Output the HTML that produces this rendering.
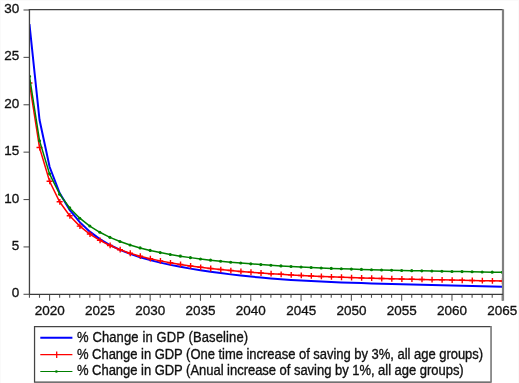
<!DOCTYPE html>
<html><head><meta charset="utf-8"><style>
html,body{margin:0;padding:0;background:#fff;width:519px;height:383px;overflow:hidden}
svg{display:block;will-change:transform;font-family:"Liberation Sans",sans-serif;font-size:13px}
.tk{stroke:#555;stroke-width:1.1}
text{fill:#111;stroke:#111;stroke-width:0.32px}
.ax{font-size:13.5px}
.lg{font-size:13px}
</style></head><body>
<svg width="519" height="383" viewBox="0 0 519 383">
<rect x="0" y="0" width="519" height="383" fill="#fff"/>
<defs><clipPath id="pc"><rect x="29.45" y="9.6" width="473.55" height="284.70"/></clipPath></defs>
<line x1="23.5" y1="294.30" x2="29.45" y2="294.30" class="tk"/><line x1="23.5" y1="246.92" x2="29.45" y2="246.92" class="tk"/><line x1="23.5" y1="199.53" x2="29.45" y2="199.53" class="tk"/><line x1="23.5" y1="152.15" x2="29.45" y2="152.15" class="tk"/><line x1="23.5" y1="104.76" x2="29.45" y2="104.76" class="tk"/><line x1="23.5" y1="57.38" x2="29.45" y2="57.38" class="tk"/><line x1="23.5" y1="9.99" x2="29.45" y2="9.99" class="tk"/><line x1="29.45" y1="294.30" x2="29.45" y2="297.80" class="tk"/><line x1="39.51" y1="294.30" x2="39.51" y2="297.80" class="tk"/><line x1="49.57" y1="294.30" x2="49.57" y2="300.80" class="tk"/><line x1="59.63" y1="294.30" x2="59.63" y2="297.80" class="tk"/><line x1="69.69" y1="294.30" x2="69.69" y2="297.80" class="tk"/><line x1="79.75" y1="294.30" x2="79.75" y2="297.80" class="tk"/><line x1="89.81" y1="294.30" x2="89.81" y2="297.80" class="tk"/><line x1="99.87" y1="294.30" x2="99.87" y2="300.80" class="tk"/><line x1="109.93" y1="294.30" x2="109.93" y2="297.80" class="tk"/><line x1="119.99" y1="294.30" x2="119.99" y2="297.80" class="tk"/><line x1="130.05" y1="294.30" x2="130.05" y2="297.80" class="tk"/><line x1="140.11" y1="294.30" x2="140.11" y2="297.80" class="tk"/><line x1="150.17" y1="294.30" x2="150.17" y2="300.80" class="tk"/><line x1="160.23" y1="294.30" x2="160.23" y2="297.80" class="tk"/><line x1="170.29" y1="294.30" x2="170.29" y2="297.80" class="tk"/><line x1="180.35" y1="294.30" x2="180.35" y2="297.80" class="tk"/><line x1="190.41" y1="294.30" x2="190.41" y2="297.80" class="tk"/><line x1="200.47" y1="294.30" x2="200.47" y2="300.80" class="tk"/><line x1="210.53" y1="294.30" x2="210.53" y2="297.80" class="tk"/><line x1="220.59" y1="294.30" x2="220.59" y2="297.80" class="tk"/><line x1="230.65" y1="294.30" x2="230.65" y2="297.80" class="tk"/><line x1="240.71" y1="294.30" x2="240.71" y2="297.80" class="tk"/><line x1="250.77" y1="294.30" x2="250.77" y2="300.80" class="tk"/><line x1="260.83" y1="294.30" x2="260.83" y2="297.80" class="tk"/><line x1="270.89" y1="294.30" x2="270.89" y2="297.80" class="tk"/><line x1="280.95" y1="294.30" x2="280.95" y2="297.80" class="tk"/><line x1="291.01" y1="294.30" x2="291.01" y2="297.80" class="tk"/><line x1="301.07" y1="294.30" x2="301.07" y2="300.80" class="tk"/><line x1="311.13" y1="294.30" x2="311.13" y2="297.80" class="tk"/><line x1="321.19" y1="294.30" x2="321.19" y2="297.80" class="tk"/><line x1="331.25" y1="294.30" x2="331.25" y2="297.80" class="tk"/><line x1="341.31" y1="294.30" x2="341.31" y2="297.80" class="tk"/><line x1="351.37" y1="294.30" x2="351.37" y2="300.80" class="tk"/><line x1="361.43" y1="294.30" x2="361.43" y2="297.80" class="tk"/><line x1="371.49" y1="294.30" x2="371.49" y2="297.80" class="tk"/><line x1="381.55" y1="294.30" x2="381.55" y2="297.80" class="tk"/><line x1="391.61" y1="294.30" x2="391.61" y2="297.80" class="tk"/><line x1="401.67" y1="294.30" x2="401.67" y2="300.80" class="tk"/><line x1="411.73" y1="294.30" x2="411.73" y2="297.80" class="tk"/><line x1="421.79" y1="294.30" x2="421.79" y2="297.80" class="tk"/><line x1="431.85" y1="294.30" x2="431.85" y2="297.80" class="tk"/><line x1="441.91" y1="294.30" x2="441.91" y2="297.80" class="tk"/><line x1="451.97" y1="294.30" x2="451.97" y2="300.80" class="tk"/><line x1="462.03" y1="294.30" x2="462.03" y2="297.80" class="tk"/><line x1="472.09" y1="294.30" x2="472.09" y2="297.80" class="tk"/><line x1="482.15" y1="294.30" x2="482.15" y2="297.80" class="tk"/><line x1="492.21" y1="294.30" x2="492.21" y2="297.80" class="tk"/><line x1="502.27" y1="294.30" x2="502.27" y2="300.80" class="tk"/>
<g clip-path="url(#pc)">
<polyline points="29.45,24.02 39.51,119.83 49.57,166.74 59.63,193.09 69.69,209.83 79.75,222.19 89.81,231.64 99.87,239.05 109.93,245.00 119.99,249.86 130.05,253.91 140.11,257.26 150.17,260.13 160.23,262.64 170.29,264.86 180.35,266.84 190.41,268.63 200.47,270.26 210.53,271.74 220.59,273.11 230.65,274.37 240.71,275.53 250.77,276.59 260.83,277.55 270.89,278.42 280.95,279.21 291.01,279.91 301.07,280.53 311.13,281.09 321.19,281.59 331.25,282.04 341.31,282.42 351.37,282.76 361.43,283.08 371.49,283.38 381.55,283.66 391.61,283.92 401.67,284.18 411.73,284.42 421.79,284.66 431.85,284.89 441.91,285.16 451.97,285.42 462.03,285.68 472.09,285.94 482.15,286.20 492.21,286.46 502.27,286.72" fill="none" stroke="#0000ff" stroke-width="2.0"/>
<polyline points="29.45,82.96 39.51,147.50 49.57,181.24 59.63,201.80 69.69,215.81 79.75,226.11 89.81,234.06 99.87,240.36 109.93,245.47 119.99,249.69 130.05,253.23 140.11,256.17 150.17,258.69 160.23,260.88 170.29,262.79 180.35,264.47 190.41,265.96 200.47,267.30 210.53,268.49 220.59,269.57 230.65,270.55 240.71,271.44 250.77,272.25 260.83,273.00 270.89,273.69 280.95,274.32 291.01,274.91 301.07,275.45 311.13,275.96 321.19,276.43 331.25,276.87 341.31,277.24 351.37,277.58 361.43,277.90 371.49,278.20 381.55,278.48 391.61,278.74 401.67,278.99 411.73,279.22 421.79,279.43 431.85,279.64 441.91,279.87 451.97,280.09 462.03,280.30 472.09,280.50 482.15,280.69 492.21,280.87 502.27,281.05" fill="none" stroke="#ff0000" stroke-width="1.5"/>
<path d="M26.45,82.96h6M29.65,80.06v5.8M36.51,147.50h6M39.71,144.60v5.8M46.57,181.24h6M49.77,178.34v5.8M56.63,201.80h6M59.83,198.90v5.8M66.69,215.81h6M69.89,212.91v5.8M76.75,226.11h6M79.95,223.21v5.8M86.81,234.06h6M90.01,231.16v5.8M96.87,240.36h6M100.07,237.46v5.8M106.93,245.47h6M110.13,242.57v5.8M116.99,249.69h6M120.19,246.79v5.8M127.05,253.23h6M130.25,250.33v5.8M137.11,256.17h6M140.31,253.27v5.8M147.17,258.69h6M150.37,255.79v5.8M157.23,260.88h6M160.43,257.98v5.8M167.29,262.79h6M170.49,259.89v5.8M177.35,264.47h6M180.55,261.57v5.8M187.41,265.96h6M190.61,263.06v5.8M197.47,267.30h6M200.67,264.40v5.8M207.53,268.49h6M210.73,265.59v5.8M217.59,269.57h6M220.79,266.67v5.8M227.65,270.55h6M230.85,267.65v5.8M237.71,271.44h6M240.91,268.54v5.8M247.77,272.25h6M250.97,269.35v5.8M257.83,273.00h6M261.03,270.10v5.8M267.89,273.69h6M271.09,270.79v5.8M277.95,274.32h6M281.15,271.42v5.8M288.01,274.91h6M291.21,272.01v5.8M298.07,275.45h6M301.27,272.55v5.8M308.13,275.96h6M311.33,273.06v5.8M318.19,276.43h6M321.39,273.53v5.8M328.25,276.87h6M331.45,273.97v5.8M338.31,277.24h6M341.51,274.34v5.8M348.37,277.58h6M351.57,274.68v5.8M358.43,277.90h6M361.63,275.00v5.8M368.49,278.20h6M371.69,275.30v5.8M378.55,278.48h6M381.75,275.58v5.8M388.61,278.74h6M391.81,275.84v5.8M398.67,278.99h6M401.87,276.09v5.8M408.73,279.22h6M411.93,276.32v5.8M418.79,279.43h6M421.99,276.53v5.8M428.85,279.64h6M432.05,276.74v5.8M438.91,279.87h6M442.11,276.97v5.8M448.97,280.09h6M452.17,277.19v5.8M459.03,280.30h6M462.23,277.40v5.8M469.09,280.50h6M472.29,277.60v5.8M479.15,280.69h6M482.35,277.79v5.8M489.21,280.87h6M492.41,277.97v5.8M499.27,281.05h6M502.47,278.15v5.8" stroke="#ff0000" stroke-width="1.4" fill="none"/>
<polyline points="29.45,76.33 39.51,140.68 49.57,173.85 59.63,194.22 69.69,207.92 79.75,218.18 89.81,226.06 99.87,232.29 109.93,237.34 119.99,241.51 130.05,245.01 140.11,247.92 150.17,250.42 160.23,252.58 170.29,254.48 180.35,256.15 190.41,257.63 200.47,258.95 210.53,260.14 220.59,261.21 230.65,262.18 240.71,263.07 250.77,263.87 260.83,264.61 270.89,265.29 280.95,265.91 291.01,266.49 301.07,267.03 311.13,267.52 321.19,267.98 331.25,268.41 341.31,268.77 351.37,269.10 361.43,269.40 371.49,269.69 381.55,269.95 391.61,270.20 401.67,270.43 411.73,270.64 421.79,270.83 431.85,271.02 441.91,271.23 451.97,271.43 462.03,271.62 472.09,271.80 482.15,271.97 492.21,272.13 502.27,272.28" fill="none" stroke="#008000" stroke-width="1.5"/>
<g fill="#008000"><circle cx="29.45" cy="76.33" r="1.55"/><circle cx="39.51" cy="140.68" r="1.55"/><circle cx="49.57" cy="173.85" r="1.55"/><circle cx="59.63" cy="194.22" r="1.55"/><circle cx="69.69" cy="207.92" r="1.55"/><circle cx="79.75" cy="218.18" r="1.55"/><circle cx="89.81" cy="226.06" r="1.55"/><circle cx="99.87" cy="232.29" r="1.55"/><circle cx="109.93" cy="237.34" r="1.55"/><circle cx="119.99" cy="241.51" r="1.55"/><circle cx="130.05" cy="245.01" r="1.55"/><circle cx="140.11" cy="247.92" r="1.55"/><circle cx="150.17" cy="250.42" r="1.55"/><circle cx="160.23" cy="252.58" r="1.55"/><circle cx="170.29" cy="254.48" r="1.55"/><circle cx="180.35" cy="256.15" r="1.55"/><circle cx="190.41" cy="257.63" r="1.55"/><circle cx="200.47" cy="258.95" r="1.55"/><circle cx="210.53" cy="260.14" r="1.55"/><circle cx="220.59" cy="261.21" r="1.55"/><circle cx="230.65" cy="262.18" r="1.55"/><circle cx="240.71" cy="263.07" r="1.55"/><circle cx="250.77" cy="263.87" r="1.55"/><circle cx="260.83" cy="264.61" r="1.55"/><circle cx="270.89" cy="265.29" r="1.55"/><circle cx="280.95" cy="265.91" r="1.55"/><circle cx="291.01" cy="266.49" r="1.55"/><circle cx="301.07" cy="267.03" r="1.55"/><circle cx="311.13" cy="267.52" r="1.55"/><circle cx="321.19" cy="267.98" r="1.55"/><circle cx="331.25" cy="268.41" r="1.55"/><circle cx="341.31" cy="268.77" r="1.55"/><circle cx="351.37" cy="269.10" r="1.55"/><circle cx="361.43" cy="269.40" r="1.55"/><circle cx="371.49" cy="269.69" r="1.55"/><circle cx="381.55" cy="269.95" r="1.55"/><circle cx="391.61" cy="270.20" r="1.55"/><circle cx="401.67" cy="270.43" r="1.55"/><circle cx="411.73" cy="270.64" r="1.55"/><circle cx="421.79" cy="270.83" r="1.55"/><circle cx="431.85" cy="271.02" r="1.55"/><circle cx="441.91" cy="271.23" r="1.55"/><circle cx="451.97" cy="271.43" r="1.55"/><circle cx="462.03" cy="271.62" r="1.55"/><circle cx="472.09" cy="271.80" r="1.55"/><circle cx="482.15" cy="271.97" r="1.55"/><circle cx="492.21" cy="272.13" r="1.55"/><circle cx="502.27" cy="272.28" r="1.55"/></g>
</g>
<rect x="0.5" y="0.5" width="518" height="383" fill="none" stroke="#fafafa" stroke-width="1"/>
<line x1="29.45" y1="294.4" x2="29.45" y2="9.0" stroke="#424242" stroke-width="1.3"/>
<line x1="28.85" y1="9.6" x2="503" y2="9.6" stroke="#404040" stroke-width="1.3"/>
<line x1="503" y1="9.2" x2="503" y2="300.80" stroke="#808080" stroke-width="2.2"/>
<line x1="29.45" y1="294.4" x2="503" y2="294.35" stroke="#3a3a3a" stroke-width="1.3"/>
<text transform="translate(19.3,297.40) scale(1,1.01)" text-anchor="end" class="ax">0</text><text transform="translate(19.3,250.02) scale(1,1.01)" text-anchor="end" class="ax">5</text><text transform="translate(19.3,202.63) scale(1,1.01)" text-anchor="end" class="ax">10</text><text transform="translate(19.3,155.25) scale(1,1.01)" text-anchor="end" class="ax">15</text><text transform="translate(19.3,107.86) scale(1,1.01)" text-anchor="end" class="ax">20</text><text transform="translate(19.3,60.48) scale(1,1.01)" text-anchor="end" class="ax">25</text><text transform="translate(19.3,13.09) scale(1,1.01)" text-anchor="end" class="ax">30</text>
<text transform="translate(49.67,315.0) scale(1,0.98)" text-anchor="middle" class="ax">2020</text><text transform="translate(99.97,315.0) scale(1,0.98)" text-anchor="middle" class="ax">2025</text><text transform="translate(150.27,315.0) scale(1,0.98)" text-anchor="middle" class="ax">2030</text><text transform="translate(200.57,315.0) scale(1,0.98)" text-anchor="middle" class="ax">2035</text><text transform="translate(250.87,315.0) scale(1,0.98)" text-anchor="middle" class="ax">2040</text><text transform="translate(301.17,315.0) scale(1,0.98)" text-anchor="middle" class="ax">2045</text><text transform="translate(351.47,315.0) scale(1,0.98)" text-anchor="middle" class="ax">2050</text><text transform="translate(401.77,315.0) scale(1,0.98)" text-anchor="middle" class="ax">2055</text><text transform="translate(452.07,315.0) scale(1,0.98)" text-anchor="middle" class="ax">2060</text><text transform="translate(502.37,315.0) scale(1,0.98)" text-anchor="middle" class="ax">2065</text>
<path d="M490.9,382.2H34.55V326.65H490.9" fill="none" stroke="#444" stroke-width="1.25"/>
<line x1="491.05" y1="326.1" x2="491.05" y2="382.8" stroke="#777" stroke-width="1.6"/>
<line x1="40.3" y1="337.8" x2="72.4" y2="337.8" stroke="#0000ff" stroke-width="2.1"/>
<line x1="40.3" y1="354.6" x2="72.4" y2="354.6" stroke="#ff0000" stroke-width="1.2"/>
<line x1="56.7" y1="351.4" x2="56.7" y2="357.9" stroke="#ff0000" stroke-width="1.3"/>
<line x1="40.3" y1="371.5" x2="72.4" y2="371.5" stroke="#008000" stroke-width="1.2"/>
<circle cx="56.4" cy="371.5" r="1.35" fill="#008000"/>
<text transform="translate(77,341.6) scale(1,1.06)" class="lg" letter-spacing="0.13">% Change in GDP (Baseline)</text>
<text transform="translate(77,358.8) scale(1,1.06)" class="lg" letter-spacing="-0.02">% Change in GDP (One time increase of saving by 3%, all age groups)</text>
<text transform="translate(77,375.4) scale(1,1.06)" class="lg" letter-spacing="-0.02">% Change in GDP (Anual increase of saving by 1%, all age groups)</text>
</svg>
</body></html>
